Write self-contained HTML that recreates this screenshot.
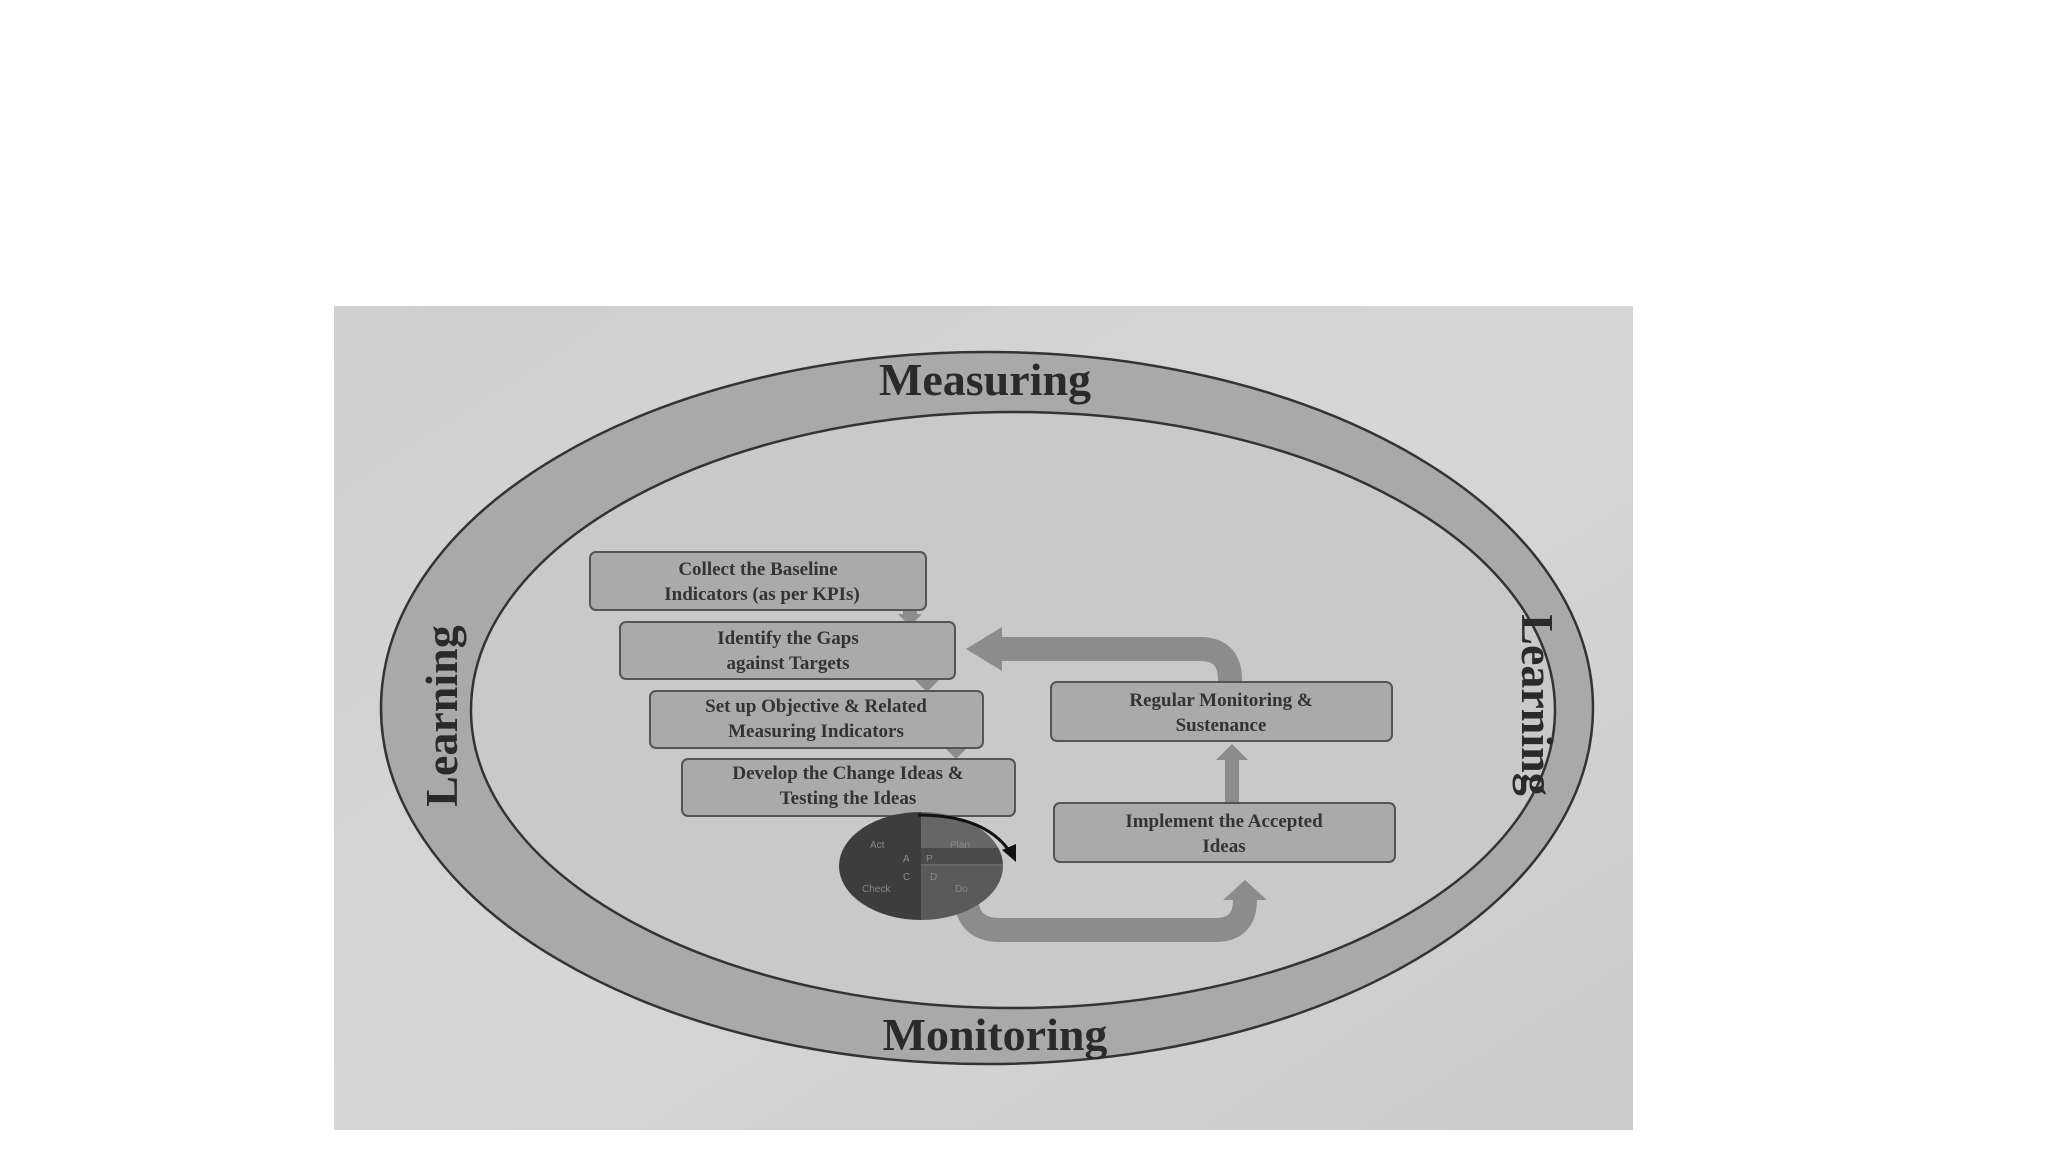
<!DOCTYPE html>
<html><head><meta charset="utf-8"><style>
html,body{margin:0;padding:0;background:#fff;}
svg{display:block;}
</style></head><body>
<svg width="2048" height="1152" viewBox="0 0 2048 1152" xmlns="http://www.w3.org/2000/svg">
<defs>
<linearGradient id="bg" x1="0" y1="0" x2="1" y2="1">
<stop offset="0" stop-color="#cfcfcf"/><stop offset="0.5" stop-color="#d6d6d6"/><stop offset="1" stop-color="#cbcbcb"/>
</linearGradient>
</defs>
<rect x="334" y="306" width="1299" height="824" fill="url(#bg)"/>
<ellipse cx="987" cy="708" rx="606" ry="356" fill="#a9a9a9" stroke="#333" stroke-width="2.5"/>
<ellipse cx="1013" cy="710" rx="542" ry="298" fill="#c9c9c9" stroke="#333" stroke-width="2.5"/>
<g font-family="Liberation Serif, serif" font-weight="bold" fill="#2a2a2a">
<text x="985" y="395" font-size="46" text-anchor="middle">Measuring</text>
<text x="995" y="1050" font-size="46" text-anchor="middle">Monitoring</text>
<text transform="translate(457,716) rotate(-90)" font-size="46" text-anchor="middle">Learning</text>
<text transform="translate(1522,705) rotate(90)" font-size="46" text-anchor="middle">Learning</text>
</g>
<g fill="none" stroke="#8c8c8c" stroke-width="24">
<path d="M1230 684 V680 Q1230 649 1200 649 H1000"/>
<path d="M966 895 Q966 930 1000 930 H1215 Q1245 930 1245 900 V893"/>
</g>
<polygon points="966,649 1002,627 1002,671" fill="#8c8c8c"/>
<polygon points="1245,880 1223,900 1267,900" fill="#8c8c8c"/>
<g fill="#8c8c8c">
<rect x="1225" y="758" width="14" height="44"/><polygon points="1232,744 1216,760 1248,760"/>
<rect x="903" y="604" width="14" height="12"/><polygon points="898,614 922,614 910,626"/>
<rect x="920" y="664" width="14" height="18"/><polygon points="915,680 939,680 927,692"/>
<rect x="949" y="729" width="14" height="20"/><polygon points="944,747 968,747 956,759"/>
</g>
<g fill="#aaaaaa" stroke="#555" stroke-width="2">
<rect x="590" y="552" width="336" height="58" rx="6"/>
<rect x="620" y="622" width="335" height="57" rx="6"/>
<rect x="650" y="691" width="333" height="57" rx="6"/>
<rect x="682" y="759" width="333" height="57" rx="6"/>
<rect x="1051" y="682" width="341" height="59" rx="6"/>
<rect x="1054" y="803" width="341" height="59" rx="6"/>
</g>
<g font-family="Liberation Serif, serif" font-weight="bold" font-size="19" fill="#333" text-anchor="middle">
<text x="758" y="575">Collect the Baseline</text><text x="762" y="600">Indicators (as per KPIs)</text>
<text x="788" y="644">Identify the Gaps</text><text x="788" y="669">against Targets</text>
<text x="816" y="712">Set up Objective &amp; Related</text><text x="816" y="737">Measuring Indicators</text>
<text x="848" y="779">Develop the Change Ideas &amp;</text><text x="848" y="804">Testing the Ideas</text>
<text x="1221" y="706">Regular Monitoring &amp;</text><text x="1221" y="731">Sustenance</text>
<text x="1224" y="827">Implement the Accepted</text><text x="1224" y="852">Ideas</text>
</g>
<clipPath id="c"><ellipse cx="921" cy="866" rx="82" ry="54"/></clipPath>
<g clip-path="url(#c)">
<rect x="839" y="812" width="82" height="108" fill="#3d3d3d"/>
<rect x="921" y="812" width="82" height="54" fill="#666"/>
<rect x="921" y="866" width="82" height="54" fill="#5a5a5a"/>
<rect x="921" y="848" width="82" height="16" fill="#4a4a4a"/>
</g>
<g font-family="Liberation Sans, sans-serif" font-size="10" fill="#888">
<text x="870" y="848">Act</text><text x="950" y="848">Plan</text>
<text x="862" y="892">Check</text><text x="955" y="892">Do</text>
<text x="903" y="862">A</text><text x="926" y="862">P</text><text x="903" y="880">C</text><text x="930" y="880">D</text>
</g>
<path d="M918 815 Q985 815 1010 852" fill="none" stroke="#111" stroke-width="3"/>
<polygon points="1016,862 1002,850 1016,844" fill="#111"/>
</svg>
</body></html>
